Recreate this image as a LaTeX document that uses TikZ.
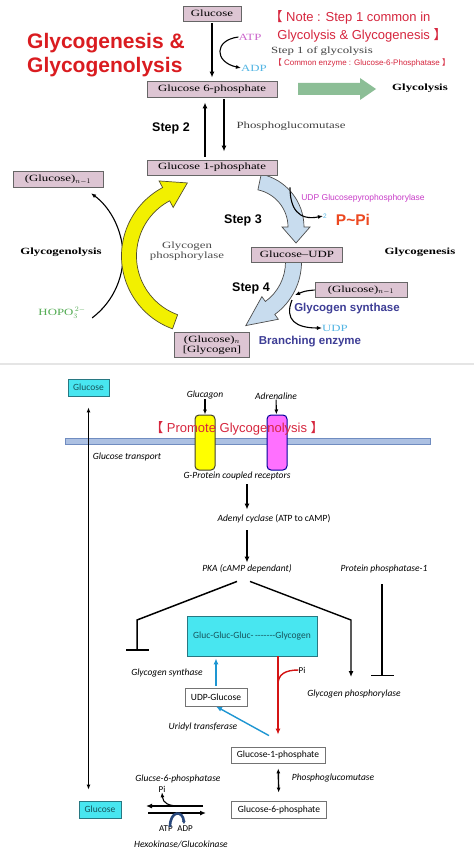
\documentclass[tikz,border=0pt]{standalone}
\usepackage{fontspec}
\setmainfont{Liberation Serif}
\setsansfont{Liberation Sans}
\newfontfamily\bookfont[FakeStretch=1.35]{Liberation Serif}
\newfontfamily\calfont{Carlito}
\newfontfamily\cjk{Noto Sans CJK SC}
\usetikzlibrary{calc,arrows.meta}

\newcommand\lbr{{\cjk 【}}
\newcommand\rbr{{\cjk 】}}

\definecolor{boxpink}{RGB}{221,197,211}
\definecolor{titlered}{RGB}{218,28,32}
\definecolor{notered}{RGB}{214,38,62}
\definecolor{atppink}{RGB}{204,102,204}
\definecolor{adpblue}{RGB}{84,182,228}
\definecolor{leafgreen}{RGB}{140,190,150}
\definecolor{bandyellow}{RGB}{242,240,0}
\definecolor{bandblue}{RGB}{200,220,238}
\definecolor{enzmagenta}{RGB}{200,60,200}
\definecolor{ppired}{RGB}{236,72,32}
\definecolor{enzblue}{RGB}{62,62,150}
\definecolor{hopogreen}{RGB}{84,172,84}
\definecolor{boxcyan}{RGB}{72,230,240}
\definecolor{cyanline}{RGB}{40,120,130}
\definecolor{cyantext}{RGB}{24,84,92}
\definecolor{membfill}{RGB}{172,192,226}
\definecolor{membline}{RGB}{112,140,192}
\definecolor{recyellow}{RGB}{255,255,0}
\definecolor{recpink}{RGB}{255,112,255}
\definecolor{arrowblue}{RGB}{30,150,210}
\definecolor{arrowred}{RGB}{212,20,20}
\definecolor{hookblue}{RGB}{40,72,124}

\tikzset{
  pbox/.style={draw=black!60, fill=boxpink, line width=0.9pt, inner sep=1pt,
    font=\bookfont\fontsize{9.5}{11}\selectfont},
  wbox/.style={draw=black!55, fill=white, line width=0.8pt, inner sep=1pt,
    font=\calfont\fontsize{9.5}{11}\selectfont},
  cbox/.style={draw=cyanline, fill=boxcyan, line width=0.8pt, inner sep=1pt,
    text=cyantext, font=\calfont\fontsize{9.5}{11}\selectfont},
  book/.style={font=\bookfont\fontsize{9.5}{11}\selectfont, inner sep=0pt},
  boldbook/.style={font=\bookfont\bfseries\fontsize{9.5}{11}\selectfont, inner sep=0pt},
  sfb/.style={font=\sffamily\bfseries\fontsize{#1}{#1}\selectfont, inner sep=0pt},
  sfn/.style={font=\sffamily\fontsize{#1}{#1}\selectfont, inner sep=0pt},
  cal/.style={font=\calfont\itshape\fontsize{9.5}{11}\selectfont, inner sep=0pt},
  blk/.style={line width=1.7pt, -{Latex[length=6pt,width=5pt]}},
  slim/.style={line width=1.1pt, -{Latex[length=5pt,width=4pt]}},
  inhib/.style={line width=1.5pt, -{Bar[width=23pt,line width=1.6pt]}},
  band/.style={draw=black!70, line width=0.7pt},
  rec/.style={minimum width=20pt, minimum height=55pt, rounded corners=4pt, line width=1pt}
}

\begin{document}
\begin{tikzpicture}[x=1pt,y=-1pt]
  \useasboundingbox (0,0) rectangle (474,864);
  \fill[white] (0,0) rectangle (474,864);

  % ---- glycogenesis & glycogenolysis cycle
  \coordinate (bcen) at (45.5,256);
  \coordinate (ycen) at (199,256);
  \coordinate (scen) at (250,227);
  \coordinate (fcen) at (236.7,262);

  \draw[slim] ($(bcen)+(-53:77.5pt)$) arc[start angle=-53, end angle=54, radius=77.5pt];
  \filldraw[band, fill=bandyellow, draw=black!55!olive]
    ($(ycen)+(250:77.5pt)$) arc[start angle=250, end angle=118, radius=77.5pt]
    -- ($(ycen)+(118:85pt)$) -- ($(ycen)+(118:70pt)+(28:24pt)$) -- ($(ycen)+(118:55pt)$)
    -- ($(ycen)+(118:62.5pt)$) arc[start angle=118, end angle=250, radius=62.5pt] -- cycle;
  \filldraw[band, fill=bandblue]
    ($(scen)+(78:54pt)$) arc[start angle=78, end angle=0, radius=54pt]
    -- ($(scen)+(0:60pt)$) -- ($(scen)+(46,16)$) -- ($(scen)+(0:32pt)$)
    -- ($(scen)+(0:38pt)$) arc[start angle=0, end angle=78, radius=38pt] -- cycle;
  \filldraw[band, fill=bandblue]
    ($(fcen)+(0:64.8pt)$) arc[start angle=0, end angle=-54, radius=64.8pt]
    -- ($(fcen)+(-54:70.8pt)$) -- ($(fcen)+(-54:56.8pt)+(-144:30pt)$) -- ($(fcen)+(-54:42.8pt)$)
    -- ($(fcen)+(-54:48.8pt)$) arc[start angle=-54, end angle=0, radius=48.8pt] -- cycle;
  \fill[leafgreen] (298,83) -- (360,83) -- (360,78) -- (376,89) -- (360,100) -- (360,95) -- (298,95) -- cycle;

  \node[pbox, minimum width=58pt, minimum height=15pt] (glu) at (212,13.5) {Glucose};
  \node[pbox, minimum width=130pt, minimum height=16pt] (g6p) at (212,89) {Glucose 6-phosphate};
  \node[pbox, minimum width=130pt, minimum height=15pt] (g1p) at (212,167.5) {Glucose 1-phosphate};
  \node[pbox, minimum width=90pt, minimum height=16pt] (gnl) at (58,179.5) {(Glucose)$_{n-1}$};
  \node[pbox, minimum width=91pt, minimum height=15pt] (gudp) at (297,254.5) {Glucose–UDP};
  \node[pbox, minimum width=92pt, minimum height=15pt] (gnr) at (361,290) {(Glucose)$_{n-1}$};
  \node[pbox, minimum width=75pt, minimum height=25pt, align=center, font=\bookfont\fontsize{9.5}{9.5}\selectfont] (glyn) at (212,345) {(Glucose)$_n$\\{}[Glycogen]};

  \node[anchor=west, align=left, text=titlered, inner sep=0pt,
    font=\sffamily\bfseries\fontsize{21}{24}\selectfont] (title) at (27,55) {Glycogenesis \&\\Glycogenolysis};
  \node[sfn=13, text=notered] (note1) at (350,17) {\lbr{} Note : Step 1 common in};
  \node[sfn=13, text=notered] (note2) at (362,35) {Glycolysis \& Glycogenesis \rbr};
  \node[book, text=atppink] (atp) at (250,37) {ATP};
  \node[book, text=adpblue] (adp) at (254,68) {ADP};
  \node[book, text=black!75] (step1) at (322,51) {Step 1 of glycolysis};
  \node[sfn=8, text=notered] (common) at (362,63) {\lbr{} Common enzyme : Glucose-6-Phosphatase \rbr};
  \node[boldbook] (glycolysis) at (420,88) {Glycolysis};
  \node[sfb=12.5] (step2) at (171,128) {Step 2};
  \node[book, text=black!75] (pgm) at (291,126) {Phosphoglucomutase};
  \node[boldbook] (glycogenolysis) at (61,252) {Glycogenolysis};
  \node[book, text=black!70, align=center, font=\bookfont\fontsize{9.5}{10.5}\selectfont] (gphos) at (187,251) {Glycogen\\phosphorylase};
  \node[book, text=hopogreen] (hopo) at (62,313) {HOPO$_3^{\,2-}$};
  \node[sfb=12.5] (step3) at (243,220) {Step 3};
  \node[sfb=12.5] (step4) at (251,288) {Step 4};
  \node[sfn=8.5, text=enzmagenta] (udpgpp) at (363,198) {UDP Glucosepyrophosphorylase};
  \node[sfn=6.5, text=adpblue] (two) at (325,216) {2};
  \node[sfb=15.5, text=ppired] (ppi) at (353,220) {P\textasciitilde Pi};
  \node[boldbook] (glycogenesis) at (420,252) {Glycogenesis};
  \node[sfb=11.5, text=enzblue] (gsyn) at (347,309) {Glycogen synthase};
  \node[book, text=adpblue] (udp) at (335,328) {UDP};
  \node[sfb=11.5, text=enzblue] (branch) at (310,342) {Branching enzyme};

  \draw[blk, shorten <=2pt, shorten >=3pt] (glu) -- (g6p);
  \draw[slim] (atp.west) .. controls (214,40) and (214,62) .. (adp.west);
  \draw[blk] ($(g1p.north)+(-7,-3)$) -- ($(g6p.south)+(-7,5)$);
  \draw[blk] ($(g6p.south)+(12,2)$) -- ($(g1p.north)+(12,-8)$);
  \draw[slim] ($(g1p.south)+(78,12)$) .. controls (290,208) and (298,221) .. (two.west);
  \draw[slim] (gnr.west) .. controls (305,291) .. (295,295);
  \draw[slim] (292,300) .. controls (284,320) and (296,328) .. (udp.west);

  % ---- separator
  \draw[black!10, line width=1.5pt] (0,364) -- (474,364);

  % ---- glycogenolysis signalling
  \filldraw[fill=membfill, draw=membline, line width=0.6pt] (65,438) rectangle (430,444);
  \node[rec, draw=black!70!olive, fill=recyellow] (rec1) at (205,442.5) {};
  \node[rec, draw=black!40!blue, fill=recpink] (rec2) at (277,442.5) {};
  \node[sfn=13, text=notered] (promote) at (237,428) {\lbr{} Promote Glycogenolysis \rbr};

  \node[cbox, minimum width=41pt, minimum height=17pt] (gluT) at (88.5,387.5) {Glucose};
  \node[cal] (glucagon) at (205,395) {Glucagon};
  \node[cal] (adrenaline) at (276,396) {Adrenaline};
  \node[cal] (gtrans) at (127,457) {Glucose transport};
  \node[cal] (gpcr) at (237,476) {G-Protein coupled receptors};
  \node[cal, font=\calfont\fontsize{9.5}{11}\selectfont] (adc) at (274,519) {\textit{Adenyl cyclase} (ATP to cAMP)};
  \node[cal] (pka) at (247,569) {PKA (cAMP dependant)};
  \node[cal] (pp1) at (384,569) {Protein phosphatase-1};
  \node[cbox, minimum width=130pt, minimum height=40pt] (glyc) at (252,636) {Gluc-Gluc-Gluc-\,-------Glycogen};
  \node[cal] (gsynB) at (167,673) {Glycogen synthase};
  \node[wbox, minimum width=62pt, minimum height=18pt] (udpg) at (216,697) {UDP-Glucose};
  \node[cal] (gphosB) at (354,694) {Glycogen phosphorylase};
  \node[cal, font=\calfont\fontsize{9}{10}\selectfont] (pi1) at (302,670) {Pi};
  \node[cal] (uridyl) at (203,727) {Uridyl transferase};
  \node[wbox, minimum width=94pt, minimum height=16pt] (g1pB) at (278,755) {Glucose-1-phosphate};
  \node[cal] (pgmB) at (333,778) {Phosphoglucomutase};
  \node[wbox, minimum width=95pt, minimum height=17pt] (g6pB) at (279,809.5) {Glucose-6-phosphate};
  \node[cbox, minimum width=42pt, minimum height=17pt] (gluB) at (100,809.5) {Glucose};
  \node[cal] (g6pase) at (178,779) {Glucse-6-phosphatase};
  \node[cal, font=\calfont\fontsize{9}{10}\selectfont] (pi2) at (162,789) {Pi};
  \node[cal, font=\calfont\fontsize{9}{10}\selectfont] (atpB) at (166,829) {ATP};
  \node[cal, font=\calfont\fontsize{9}{10}\selectfont] (adpB) at (185,829) {ADP};
  \node[cal] (hexo) at (181,844) {Hexokinase/Glucokinase};

  \draw[slim, line width=1.4pt, {Latex[length=5pt,width=4pt]}-{Latex[length=5pt,width=4pt]}]
    ([yshift=-11pt]gluT.south) -- ([yshift=11pt]gluT.south |- gluB.north);
  \draw[slim] (glucagon) -- (rec1);
  \draw[slim] (adrenaline) -- (rec2);
  \draw[blk, line width=1.3pt, shorten <=4pt, shorten >=5pt] (pka |- gpcr.south) -- (pka |- adc.north);
  \draw[blk, line width=1.3pt, shorten <=7pt, shorten >=2pt] (pka |- adc.south) -- (pka.north);
  \draw[inhib] ($(pka.south)+(-10,8)$) -- (137,620) -- (137,651);
  \draw[blk, line width=1.4pt] ($(pka.south)+(3,8)$) -- (351,620) -- (351,677);
  \draw[inhib] ($(pp1.south)+(-2,11)$) -- ++(0,92);
  \draw[blk, arrowblue, line width=1.4pt, shorten <=2pt, shorten >=2pt] (udpg.north) -- (udpg.north |- glyc.south);
  \draw[blk, arrowred, line width=1.4pt, shorten >=12pt] (g1pB.north |- glyc.south) -- (g1pB.north);
  \draw[arrowred, line width=1.4pt] ($(g1pB.north |- glyc.south)+(0,28)$) .. controls +(0,-10) and (285,670) .. (pi1.west);
  \draw[blk, arrowblue, line width=1.4pt] ($(g1pB.north)+(-9,-11)$) -- (udpg.south);
  \draw[blk, line width=1.4pt, {Latex[length=5pt,width=4pt]}-{Latex[length=5pt,width=4pt]}, shorten <=5pt, shorten >=8pt] (g1pB) -- (g6pB);
  \draw[blk, line width=1.4pt] (203,806) -- (146,806);
  \draw[blk, line width=1.4pt] (148,813) -- (206,813);
  \draw[slim] (180,806) .. controls (168,806) and (163,803) .. (pi2.south);
  \draw[hookblue, line width=2.6pt, -{Latex[length=3pt,width=4pt]}] (170,827) .. controls (170,810) and (183,810) .. (184,824);
\end{tikzpicture}
\end{document}
